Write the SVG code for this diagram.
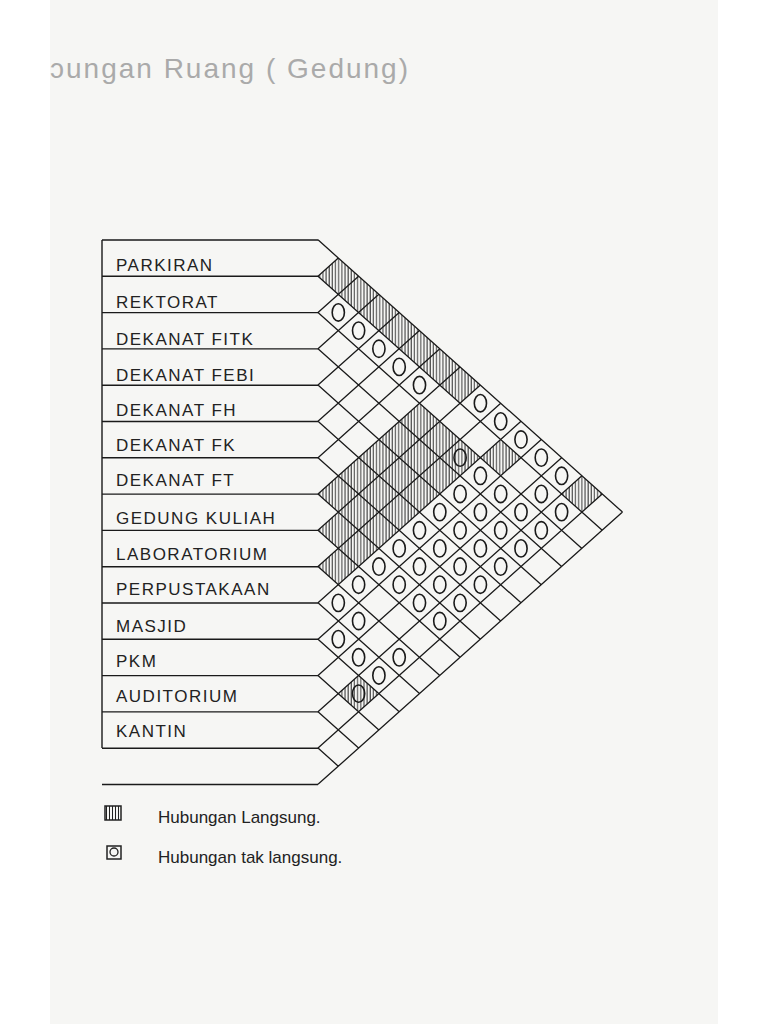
<svg xmlns="http://www.w3.org/2000/svg" width="768" height="1024" viewBox="0 0 768 1024">
<style>
.lbl{font-family:"Liberation Sans",sans-serif;font-size:17px;fill:#222;letter-spacing:1.5px}
.ln{stroke:#1a1a1a;stroke-width:1.4;fill:none}
.g{stroke:#1a1a1a;stroke-width:1.3;fill:none;vector-effect:non-scaling-stroke}
.h{fill:url(#hatch);stroke:none}
.c{fill:none;stroke:#1a1a1a;stroke-width:1.6;vector-effect:non-scaling-stroke;transform-box:fill-box;transform-origin:center;transform:rotate(45deg) scale(1.35,0.85)}
</style>
<defs>
<pattern id="hatch" patternUnits="userSpaceOnUse" width="0.11" height="1" patternTransform="rotate(-45)">
<line x1="0.05" y1="0" x2="0.05" y2="1" stroke="#333" stroke-width="0.035"/>
</pattern>
<pattern id="vh" patternUnits="userSpaceOnUse" width="3" height="10">
<line x1="1.5" y1="0" x2="1.5" y2="10" stroke="#222" stroke-width="1"/>
</pattern>
</defs>
<rect width="768" height="1024" fill="#ffffff"/>
<rect x="50" y="0" width="668" height="1024" fill="#f6f6f4"/>
<text x="50" y="78" font-family="Liberation Sans,sans-serif" font-size="28" fill="#aaa" letter-spacing="2">ɔungan  Ruang   ( Gedung)</text>
<g id="rows">
<path class="ln" d="M102 240H318M102 276.3H318M102 312.6H318M102 348.9H318M102 385.2H318M102 421.5H318M102 457.8H318M102 494.1H318M102 530.4H318M102 566.7H318M102 603H318M102 639.3H318M102 675.6H318M102 711.9H318M102 748.2H318M102 784.5H318M102 240V748"/>
</g>
<g id="labels">
<text class="lbl" x="116" y="271">PARKIRAN</text>
<text class="lbl" x="116" y="308">REKTORAT</text>
<text class="lbl" x="116" y="345">DEKANAT FITK</text>
<text class="lbl" x="116" y="381">DEKANAT FEBI</text>
<text class="lbl" x="116" y="416">DEKANAT FH</text>
<text class="lbl" x="116" y="451">DEKANAT FK</text>
<text class="lbl" x="116" y="486">DEKANAT FT</text>
<text class="lbl" x="116" y="524">GEDUNG KULIAH</text>
<text class="lbl" x="116" y="560">LABORATORIUM</text>
<text class="lbl" x="116" y="595">PERPUSTAKAAN</text>
<text class="lbl" x="116" y="632">MASJID</text>
<text class="lbl" x="116" y="667">PKM</text>
<text class="lbl" x="116" y="702">AUDITORIUM</text>
<text class="lbl" x="116" y="737">KANTIN</text>
</g>
<g id="matrix" transform="matrix(-20.3 18.15 20.3 18.15 318 258)">
<g id="hatched">
<rect class="h" x="-0.5" y="0.5" width="1" height="7"/>
<rect class="h" x="-0.5" y="12.5" width="1" height="1"/>
<rect class="h" x="1.5" y="6.5" width="5" height="1"/>
<rect class="h" x="1.5" y="7.5" width="6" height="1"/>
<rect class="h" x="1.5" y="8.5" width="7" height="1"/>
<rect class="h" x="0.5" y="9.5" width="1" height="1"/>
<rect class="h" x="10.5" y="12.5" width="1" height="1"/>
</g>
<g id="circles">
<circle class="c" cx="0" cy="8" r="0.25"/><circle class="c" cx="0" cy="9" r="0.25"/><circle class="c" cx="0" cy="10" r="0.25"/><circle class="c" cx="0" cy="11" r="0.25"/><circle class="c" cx="0" cy="12" r="0.25"/>
<circle class="c" cx="1" cy="2" r="0.25"/><circle class="c" cx="1" cy="3" r="0.25"/><circle class="c" cx="1" cy="4" r="0.25"/><circle class="c" cx="1" cy="5" r="0.25"/><circle class="c" cx="1" cy="6" r="0.25"/><circle class="c" cx="1" cy="12" r="0.25"/><circle class="c" cx="1" cy="13" r="0.25"/>
<circle class="c" cx="2" cy="9" r="0.25"/><circle class="c" cx="2" cy="10" r="0.25"/><circle class="c" cx="2" cy="11" r="0.25"/><circle class="c" cx="2" cy="12" r="0.25"/><circle class="c" cx="2" cy="13" r="0.25"/>
<circle class="c" cx="3" cy="10" r="0.25"/><circle class="c" cx="3" cy="11" r="0.25"/><circle class="c" cx="3" cy="12" r="0.25"/><circle class="c" cx="3" cy="13" r="0.25"/>
<circle class="c" cx="4" cy="10" r="0.25"/><circle class="c" cx="4" cy="11" r="0.25"/><circle class="c" cx="4" cy="12" r="0.25"/><circle class="c" cx="4" cy="13" r="0.25"/>
<circle class="c" cx="5" cy="10" r="0.25"/><circle class="c" cx="5" cy="11" r="0.25"/><circle class="c" cx="5" cy="12" r="0.25"/><circle class="c" cx="5" cy="13" r="0.25"/>
<circle class="c" cx="6" cy="10" r="0.25"/><circle class="c" cx="6" cy="11" r="0.25"/><circle class="c" cx="6" cy="12" r="0.25"/><circle class="c" cx="6" cy="13" r="0.25"/>
<circle class="c" cx="7" cy="10" r="0.25"/><circle class="c" cx="7" cy="11" r="0.25"/><circle class="c" cx="7" cy="12" r="0.25"/><circle class="c" cx="7" cy="13" r="0.25"/>
<circle class="c" cx="8" cy="10" r="0.25"/><circle class="c" cx="9" cy="10" r="0.25"/><circle class="c" cx="9" cy="11" r="0.25"/><circle class="c" cx="9" cy="13" r="0.25"/>
<circle class="c" cx="10" cy="11" r="0.25"/><circle class="c" cx="10" cy="12" r="0.25"/><circle class="c" cx="10" cy="13" r="0.25"/><circle class="c" cx="11" cy="13" r="0.25"/>
</g>
<path class="g" d="M-0.5 -0.5V14.5M0.5 0.5V14.5M1.5 1.5V14.5M2.5 2.5V14.5M3.5 3.5V14.5M4.5 4.5V14.5M5.5 5.5V14.5M6.5 6.5V14.5M7.5 7.5V14.5M8.5 8.5V14.5M9.5 9.5V14.5M10.5 10.5V14.5M11.5 11.5V14.5M12.5 12.5V14.5M13.5 13.5V14.5
M0.5 0.5H-0.5M1.5 1.5H-0.5M2.5 2.5H-0.5M3.5 3.5H-0.5M4.5 4.5H-0.5M5.5 5.5H-0.5M6.5 6.5H-0.5M7.5 7.5H-0.5M8.5 8.5H-0.5M9.5 9.5H-0.5M10.5 10.5H-0.5M11.5 11.5H-0.5M12.5 12.5H-0.5M13.5 13.5H-0.5M14.5 14.5H-0.5"/>
</g>
<g id="legend">
<rect x="105" y="806" width="16" height="14" fill="url(#vh)" stroke="#222" stroke-width="1.5"/>
<text x="158" y="823" font-family="Liberation Sans,sans-serif" font-size="17" fill="#222">Hubungan Langsung.</text>
<rect x="107" y="846" width="14" height="13" fill="none" stroke="#222" stroke-width="1.5"/>
<circle cx="114" cy="852" r="4" fill="none" stroke="#222" stroke-width="1.3"/>
<text x="158" y="863" font-family="Liberation Sans,sans-serif" font-size="17" fill="#222">Hubungan tak langsung.</text>
</g>
</svg>
